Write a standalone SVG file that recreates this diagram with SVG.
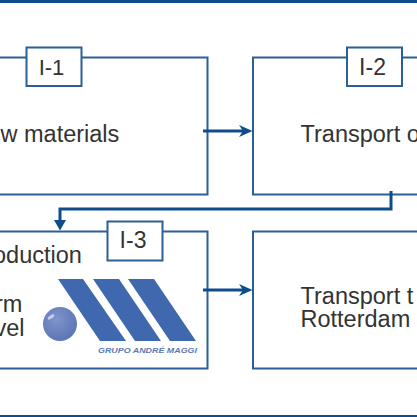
<svg xmlns="http://www.w3.org/2000/svg" width="417" height="417" viewBox="0 0 417 417">
<style>
.box{fill:#fff;stroke:#2a5f97;stroke-width:2}
.tag{fill:#fff;stroke:#2a5f97;stroke-width:2}
.t{font-family:"Liberation Sans",Arial,sans-serif;font-size:23.5px;fill:#333}
.tagt{font-family:"Liberation Sans",Arial,sans-serif;font-size:23px;fill:#333;text-anchor:middle}
.conn{fill:none;stroke:#0f4c8c;stroke-width:3}
.head{fill:#0f4c8c}
.logo{fill:#3f68ae}
</style>
<defs>
<radialGradient id="ball" cx="0.4" cy="0.35" r="0.7"><stop offset="0" stop-color="#7f93cc"/><stop offset="1" stop-color="#5b74b4"/></radialGradient>
</defs>
<rect width="417" height="417" fill="#fff"/>
<rect x="0" y="0" width="417" height="3" fill="#0f4c8c"/>
<rect x="0" y="415" width="417" height="2" fill="#0f4c8c"/>
<g id="node-i1">
<rect class="box" x="-5" y="57.5" width="212.5" height="137"/>
<rect class="tag" x="26.5" y="47.5" width="55" height="38.5"/>
<text class="tagt" x="51.5" y="74.5" font-size="22" style="font-size:22px">I-1</text>
<text class="t" x="0.5" y="142">w materials</text>
</g>
<g id="node-i2">
<rect class="box" x="253" y="57.5" width="170" height="137"/>
<rect class="tag" x="347" y="47.5" width="55" height="38.5"/>
<text class="tagt" x="372.5" y="74.5">I-2</text>
<text class="t" x="300.5" y="142">Transport o</text>
</g>
<g id="node-i3">
<rect class="box" x="-5" y="231.5" width="212.5" height="137"/>
<rect class="tag" x="107.5" y="221.5" width="55" height="39"/>
<text class="tagt" x="133" y="247.5">I-3</text>
<text class="t" x="-7" y="263">oduction</text>
<text class="t" x="-5" y="312">rm</text>
<text class="t" x="-5.5" y="335.5">vel</text>
<g id="logo">
<polygon class="logo" points="58,279 83,279 126,341 100,341"/>
<polygon class="logo" points="93,279 119,279 161,341 135,341"/>
<polygon class="logo" points="128,279 154,279 196,341 170,341"/>
<circle cx="60" cy="324" r="17" fill="url(#ball)"/>
<ellipse cx="51" cy="317" rx="4" ry="1.6" fill="#c5cfe8" transform="rotate(-35 51 317)"/>
<text x="98" y="353" textLength="99" lengthAdjust="spacingAndGlyphs" font-family="'Liberation Sans',Arial,sans-serif" font-size="7" font-weight="700" font-style="italic" fill="#5a78b4">GRUPO ANDRÉ MAGGI</text>
</g>
</g>
<g id="node-i4">
<rect class="box" x="253" y="231.5" width="170" height="137"/>
<text class="t" x="300.5" y="303.5">Transport t</text>
<text class="t" x="300.5" y="327">Rotterdam</text>
</g>
<g id="connectors">
<path class="conn" d="M203 131H245"/>
<polygon class="head" points="252.5,131 239,125 243,131 239,137"/>
<path class="conn" d="M203 290H245"/>
<polygon class="head" points="252.5,290 239,284 243,290 239,296"/>
<path class="conn" d="M391 191V209H60V222"/>
<polygon class="head" points="60,230.5 54,220 66,220"/>
</g>
</svg>
